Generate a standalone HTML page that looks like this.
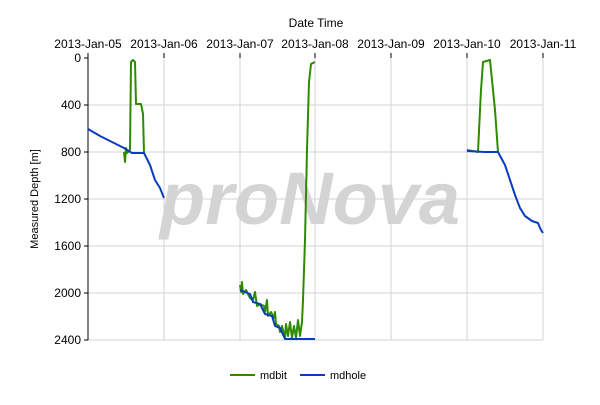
<!DOCTYPE html><html><head><style>body{margin:0;background:#fff}svg text{font-family:"Liberation Sans",sans-serif;font-size:12px;fill:#000}</style></head><body>
<svg width="600" height="400" xmlns="http://www.w3.org/2000/svg">
<g stroke="#d3d3d3" stroke-width="1">
<line x1="164" y1="58" x2="164" y2="340"/><line x1="240" y1="58" x2="240" y2="340"/><line x1="315" y1="58" x2="315" y2="340"/><line x1="391" y1="58" x2="391" y2="340"/><line x1="467" y1="58" x2="467" y2="340"/><line x1="543" y1="58" x2="543" y2="340"/>
<line x1="88" y1="105" x2="543" y2="105"/><line x1="88" y1="152" x2="543" y2="152"/><line x1="88" y1="199" x2="543" y2="199"/><line x1="88" y1="246" x2="543" y2="246"/><line x1="88" y1="293" x2="543" y2="293"/><line x1="88" y1="340" x2="543" y2="340"/>
</g>
<text x="310" y="224" text-anchor="middle" style="font-size:74px;font-weight:bold;font-style:italic;fill:#d4d4d4">proNova</text>
<g stroke="#000"><line x1="88" y1="58" x2="88" y2="340"/><line x1="88" y1="53" x2="88" y2="58"/>
<line x1="84" y1="58" x2="88" y2="58"/><line x1="84" y1="105" x2="88" y2="105"/><line x1="84" y1="152" x2="88" y2="152"/><line x1="84" y1="199" x2="88" y2="199"/><line x1="84" y1="246" x2="88" y2="246"/><line x1="84" y1="293" x2="88" y2="293"/><line x1="84" y1="340" x2="88" y2="340"/>
<line x1="164" y1="53" x2="164" y2="58"/><line x1="240" y1="53" x2="240" y2="58"/><line x1="315" y1="53" x2="315" y2="58"/><line x1="391" y1="53" x2="391" y2="58"/><line x1="467" y1="53" x2="467" y2="58"/><line x1="543" y1="53" x2="543" y2="58"/></g>
<g text-anchor="end"><text x="81" y="62">0</text><text x="81" y="109">400</text><text x="81" y="156">800</text><text x="81" y="203">1200</text><text x="81" y="250">1600</text><text x="81" y="297">2000</text><text x="81" y="344">2400</text></g>
<g text-anchor="middle"><text x="88" y="48">2013-Jan-05</text><text x="164" y="48">2013-Jan-06</text><text x="240" y="48">2013-Jan-07</text><text x="315" y="48">2013-Jan-08</text><text x="391" y="48">2013-Jan-09</text><text x="467" y="48">2013-Jan-10</text><text x="543" y="48">2013-Jan-11</text>
<text x="316" y="27">Date Time</text></g>
<text transform="translate(38,199) rotate(-90)" text-anchor="middle" style="font-size:11px">Measured Depth [m]</text>
<g fill="none" stroke-width="2" stroke-linejoin="round">
<polyline stroke="#2e8b00" points="124,152 125,162 126,148 127,153 130,150 131,62 133,60 135,62 136,104 141,104 143,114 144,153"/>
<polyline stroke="#2e8b00" points="240,285 241,292 242,282 243,294 246,290 250,298 253,300 255,292 257,306 260,304 264,306 265,312 267,300 268,316 271,312 274,318 275,312 276,324 279,326 280,332 282,326 283,330 285,338 286,324 288,336 290,322 292,338 294,326 296,338 298,320 300,336 302,322 303,300 305,240 307,150 309,82 311,64 315,62"/>
<polyline stroke="#2e8b00" points="467,150 478,152 480,110 481,90 483,62 490,60 492,80 495,110 498,152"/>
<polyline stroke="#0a3cbe" points="88,129 100,136 110,141 124,148 132,153 144,153 150,165 155,180 160,188 164,198"/>
<polyline stroke="#0a3cbe" points="240,290 245,292 250,294 253,302 260,304 265,314 272,316 275,326 280,328 285,339 315,339"/>
<polyline stroke="#0a3cbe" points="467,151 485,152 498,152 505,165 510,180 515,195 520,208 525,216 532,221 538,223 541,230 543,233"/>
</g>
<line x1="230" y1="375" x2="255" y2="375" stroke="#2e8b00" stroke-width="2"/><text x="260" y="379" style="font-size:11px">mdbit</text>
<line x1="300" y1="375" x2="325" y2="375" stroke="#0a3cbe" stroke-width="2"/><text x="330" y="379" style="font-size:11px">mdhole</text>
</svg></body></html>
